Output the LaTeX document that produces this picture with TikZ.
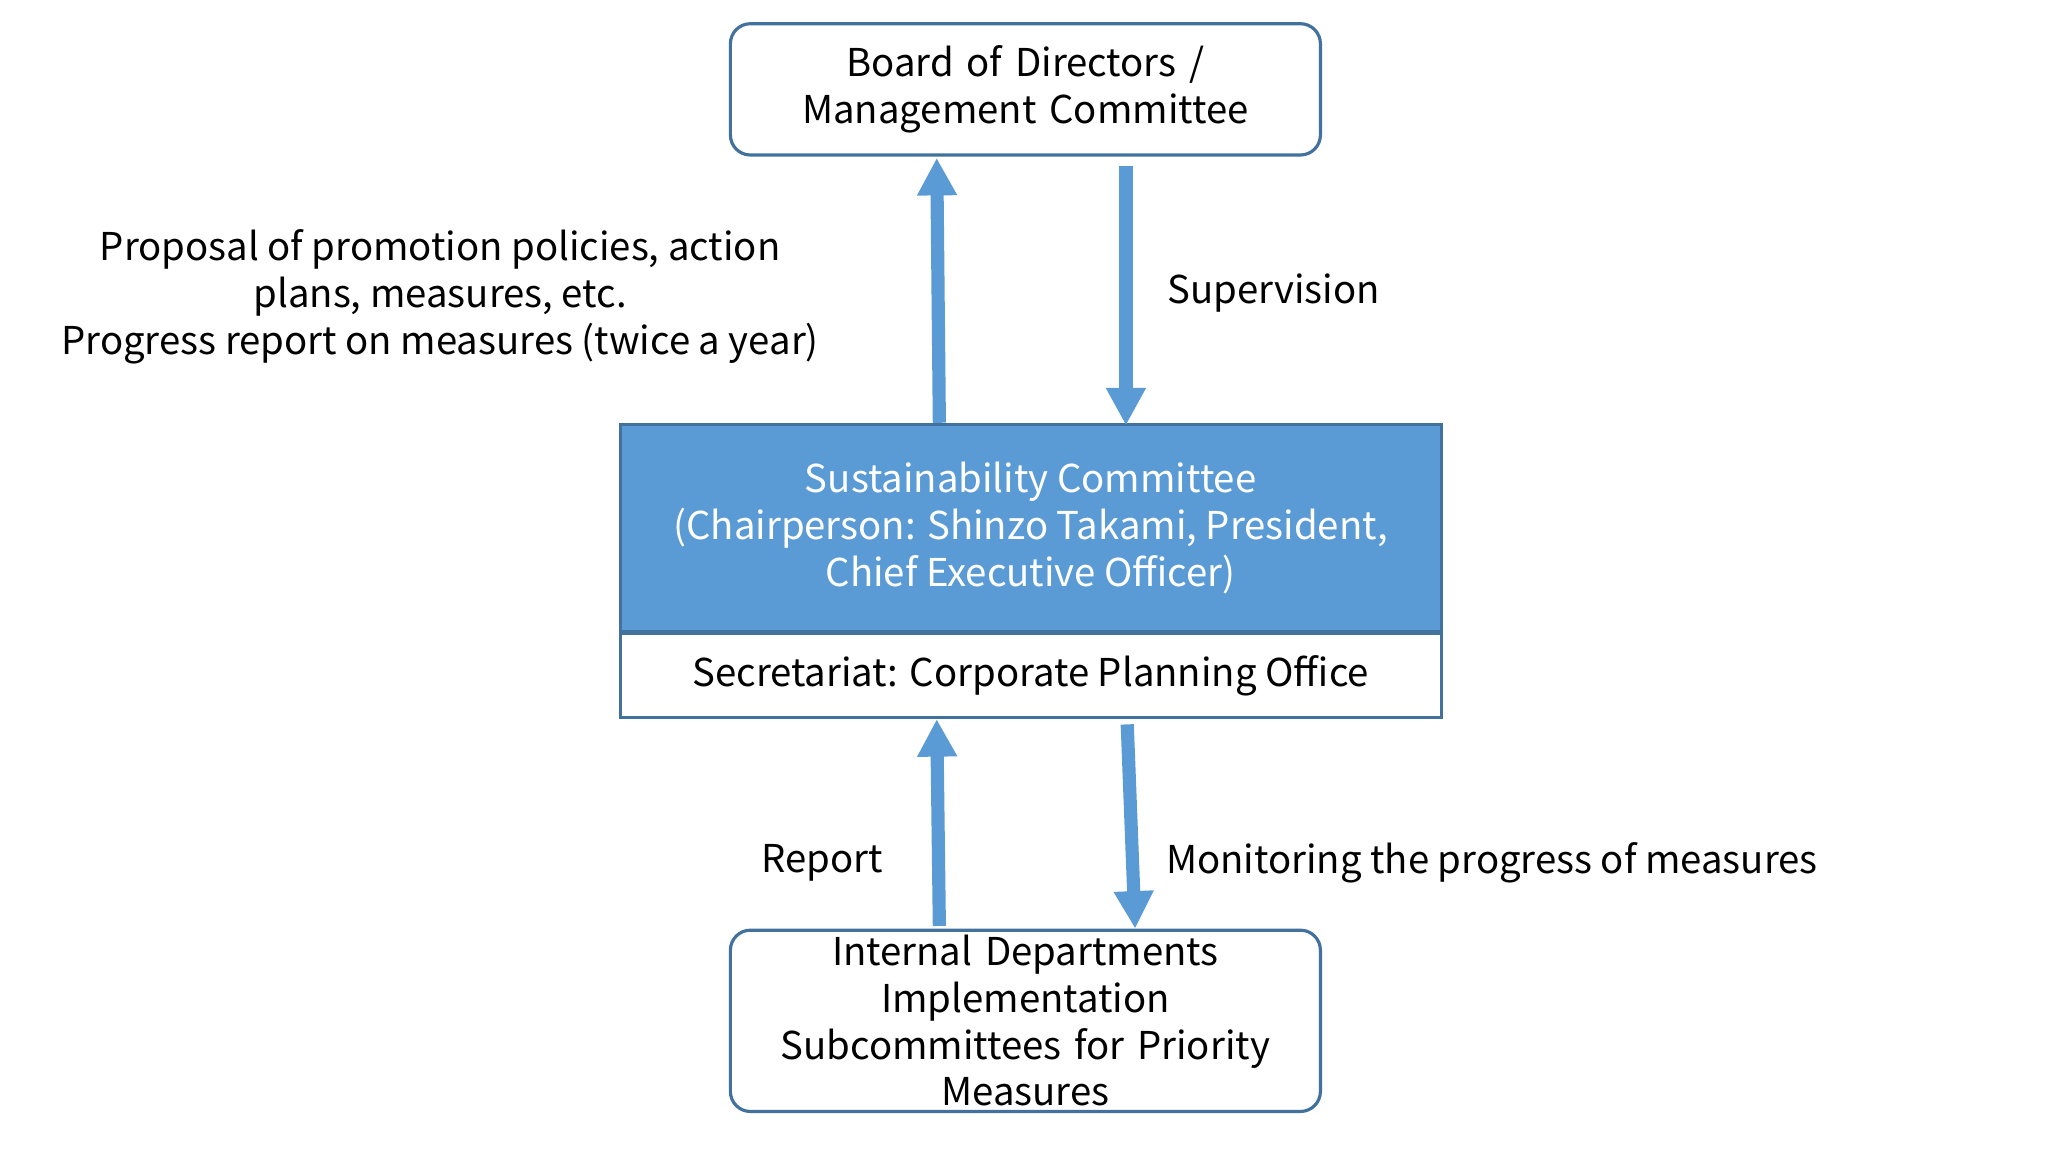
\documentclass[tikz,border=0pt]{standalone}
\usepackage{fontspec}
\setmainfont{Noto Sans CJK JP}
\usetikzlibrary{positioning,calc,arrows.meta}

\definecolor{accent}{HTML}{5B9BD5}
\definecolor{edge}{HTML}{41719C}

\tikzset{%
  % Specifications for style of nodes:
         base/.style = {rectangle, rounded corners=0.2cm, draw=edge, line width=0.9pt, minimum width=5.90cm, text width=5.82cm, align=center, inner sep=0pt},
        chair/.style = {rectangle, draw=edge, line width=0.9pt, fill=accent, text=white, minimum width=8.21cm, minimum height=2.076cm, align=center, inner sep=0pt},
         secr/.style = {rectangle, draw=edge, line width=0.9pt, fill=white, minimum width=8.21cm, minimum height=0.84cm, inner sep=0pt},
        label/.style = {align=center, inner sep=0pt},
         flow/.style = {draw=accent, line width=3.75pt, -{Triangle[length=0.375cm, width=0.375cm]}},
}

\begin{document}
\begin{tikzpicture}[x=0.013138cm, y=-0.013138cm, every node/.style={font=\fontsize{10.9}{13.3}\selectfont}]
    \useasboundingbox (0,0) rectangle (1568,882);

    % Draw nodes
    \node (board)  [base, minimum height=1.313cm] at (780.5,68)  {Board of Directors /\\ Management Committee};
    \node (sust)   [chair] at (784.5,402) {Sustainability Committee\\ (Chairperson: Shinzo Takami, President,\\ Chief Executive Officer)};
    \node (office) [secr, below=-0.45pt of sust] {Secretariat: Corporate Planning Office};
    \node (dept)   [base, minimum height=1.813cm] at (780.5,777) {Internal Departments\\ Implementation\\ Subcommittees for Priority\\ Measures};

    % Draw labels
    \node (propose) [label] at (335,226) {Proposal of promotion policies, action\\ plans, measures, etc.\\ Progress report on measures (twice a year)};
    \node (supervise) [label, anchor=west] at (888,223) {Supervision};
    \node (report)  [label] at (626,657) {Report};
    \node (monitor) [label, anchor=west] at (887,657) {Monitoring the progress of measures};

    % Draw arrows
    \draw[flow]  ($(sust.north)+(-69.5,0)$) -- ($(board.south)+(-67.5,1)$);
    \draw[flow]  ($(board.south)+(76.5,7)$) -- ($(sust.north)+(72.5,2)$);
    \draw[flow]  ($(dept.north)+(-65.5,-2)$) -- ($(office.south)+(-71.5,0)$);
    \draw[flow]  ($(office.south)+(73.5,4)$) -- ($(dept.north)+(83.5,0)$);
\end{tikzpicture}
\end{document}
